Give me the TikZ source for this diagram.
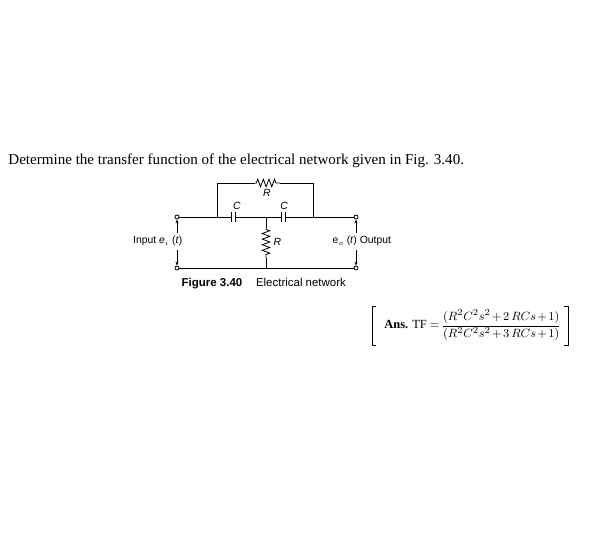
\documentclass[tikz,border=0pt]{standalone}
\usepackage{fontspec}
\setmainfont{Liberation Serif}
\newfontfamily\arial{Liberation Sans}
\usetikzlibrary{arrows.meta,decorations.pathmorphing}
\begin{document}
\begin{tikzpicture}[x=0.75pt,y=-0.75pt,line width=0.6pt,
  term/.style={circle,draw,inner sep=0pt,minimum size=3pt,fill=white},
  lab/.style={font=\arial\fontsize{7.8}{9}\selectfont,inner sep=1pt},
  res/.style={decorate,decoration={zigzag,segment length=4.2,amplitude=2.8,pre length=1,post length=1}}]
\useasboundingbox (0,0) rectangle (602,550);
\node[anchor=west,inner sep=0pt,font=\fontsize{11.3}{13}\selectfont] (title) at (8,161) {Determine the transfer function of the electrical network given in Fig. 3.40.};
\coordinate (tl) at (217,183); \coordinate (tr) at (313,183);
\coordinate (ml) at (217,217); \coordinate (mr) at (313,217);
\coordinate (mid) at (266,217); \coordinate (bm) at (266,268);
\node[term] (a) at (177,217) {}; \node[term] (b) at (356,217) {};
\node[term] (c) at (177,268) {}; \node[term] (d) at (356,268) {};
\coordinate (r1a) at (255,183); \coordinate (r1b) at (280,183);
\draw (ml)--(tl)--(r1a); \draw[res] (r1a)--(r1b); \draw (r1b)--(tr)--(mr);
\coordinate (c1a) at (231,217); \coordinate (c1b) at (235,217);
\coordinate (c2a) at (281,217); \coordinate (c2b) at (285,217);
\draw (a)--(c1a) (c1b)--(c2a) (c2b)--(b);
\draw (231,212)--(231,222) (235,212)--(235,222);
\draw (281,212)--(281,222) (285,212)--(285,222);
\coordinate (r2a) at (266,228); \coordinate (r2b) at (266,258);
\draw (mid)--(r2a); \draw[res] (r2a)--(r2b); \draw (r2b)--(bm);
\draw (c)--(d);
\node[lab] (lr1) at (267,193) {\itshape R};
\node[lab] (lc1) at (237,206) {\itshape C};
\node[lab] (lc2) at (284,206) {\itshape C};
\node[lab,anchor=west] (lr2) at (272,242) {\itshape R};
\node[lab,anchor=east] (lin) at (184,241) {Input \textit{e$_i$} (\textit{t})};
\node[lab,anchor=west] (lout) at (331,241) {e$_o$ (\textit{t}) Output};
\draw[-{Stealth[length=3pt]}] (177,233)--(a); \draw[-{Stealth[length=3pt]}] (177,250)--(c);
\draw[-{Stealth[length=3pt]}] (356,233)--(b); \draw[-{Stealth[length=3pt]}] (356,250)--(d);
\node[lab,anchor=west,font=\arial\fontsize{8.6}{10}\selectfont] (cap) at (180,284) {\textbf{Figure 3.40}\hspace{1.2em}Electrical network};
\node[anchor=west,inner sep=0pt,font=\fontsize{9.3}{11}\selectfont] (ans) at (384,325) {\textbf{Ans.} TF $\thickmuskip=3mu\medmuskip=2mu=\displaystyle\frac{(R^2C^2s^2+2\,RCs+1)}{(R^2C^2s^2+3\,RCs+1)}$};
\draw (376,306)--(372,306)--(372,345)--(376,345);
\draw ([xshift=2pt]ans.east |- 0,306) -- ++(3pt,0) coordinate (rb) -- (rb |- 0,345) -- ++(-3pt,0);
\end{tikzpicture}
\end{document}
